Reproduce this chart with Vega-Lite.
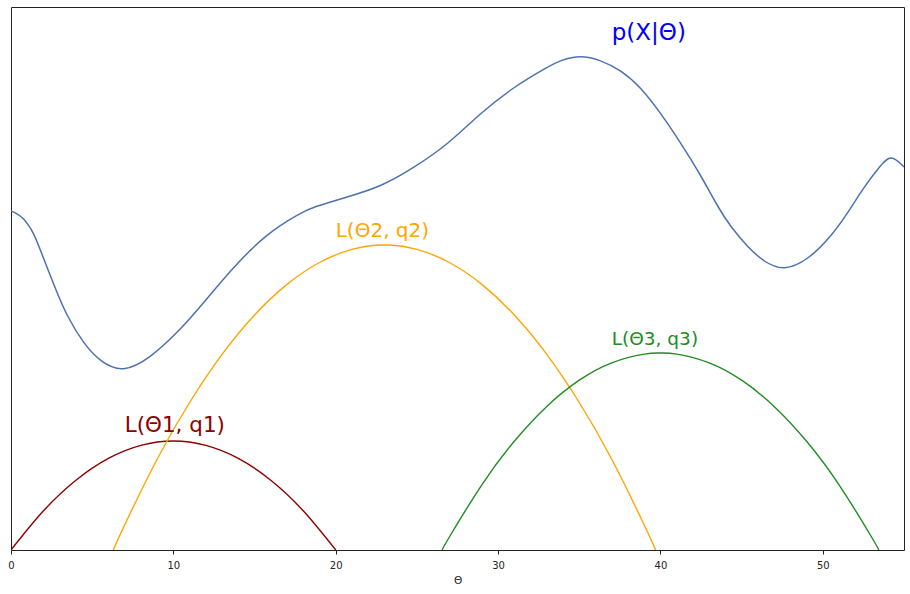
{
  "$schema": "https://vega.github.io/schema/vega-lite/v6.json",
  "width": 893,
  "height": 543,
  "autosize": {"type": "none"},
  "padding": {"left": 11, "top": 7, "right": 6, "bottom": 44},
  "background": "white",
  "config": {
    "view": {"stroke": "#222", "strokeWidth": 1},
    "font": "DejaVu Sans",
    "axis": {
      "labelFont": "DejaVu Sans",
      "labelFontSize": 10,
      "labelColor": "#222",
      "labelFlush": false,
      "tickColor": "#222",
      "tickSize": 4,
      "tickWidth": 1,
      "domain": false,
      "grid": false,
      "titleFont": "DejaVu Sans",
      "titleFontSize": 10.5,
      "titleFontWeight": "normal",
      "titleColor": "#222",
      "titlePadding": 5,
      "labelPadding": 6
    }
  },
  "datasets": {
    "curves": [
      {"series": "p", "x": 0, "y": 339},
      {"series": "p", "x": 0.37, "y": 336.5},
      {"series": "p", "x": 0.74, "y": 332},
      {"series": "p", "x": 1.05, "y": 325.5},
      {"series": "p", "x": 1.36, "y": 318},
      {"series": "p", "x": 1.79, "y": 301},
      {"series": "p", "x": 2.4, "y": 275},
      {"series": "p", "x": 2.9, "y": 255},
      {"series": "p", "x": 3.45, "y": 234},
      {"series": "p", "x": 4.44, "y": 207},
      {"series": "p", "x": 5.49, "y": 188},
      {"series": "p", "x": 6.9, "y": 177},
      {"series": "p", "x": 8.57, "y": 192},
      {"series": "p", "x": 10.23, "y": 217},
      {"series": "p", "x": 11.65, "y": 243},
      {"series": "p", "x": 13.69, "y": 283},
      {"series": "p", "x": 15.78, "y": 317},
      {"series": "p", "x": 17.82, "y": 337},
      {"series": "p", "x": 18.62, "y": 343},
      {"series": "p", "x": 20.71, "y": 353},
      {"series": "p", "x": 22.75, "y": 363},
      {"series": "p", "x": 24.78, "y": 382},
      {"series": "p", "x": 26.88, "y": 405},
      {"series": "p", "x": 28.91, "y": 437},
      {"series": "p", "x": 30.95, "y": 463},
      {"series": "p", "x": 33.05, "y": 483},
      {"series": "p", "x": 33.85, "y": 490},
      {"series": "p", "x": 35.08, "y": 495},
      {"series": "p", "x": 36.31, "y": 490},
      {"series": "p", "x": 37.55, "y": 480},
      {"series": "p", "x": 38.78, "y": 463},
      {"series": "p", "x": 40.01, "y": 437},
      {"series": "p", "x": 41.25, "y": 407},
      {"series": "p", "x": 42.48, "y": 375},
      {"series": "p", "x": 43.53, "y": 343},
      {"series": "p", "x": 44.33, "y": 323},
      {"series": "p", "x": 45.38, "y": 303},
      {"series": "p", "x": 46.36, "y": 288},
      {"series": "p", "x": 47.6, "y": 279},
      {"series": "p", "x": 49.08, "y": 290},
      {"series": "p", "x": 50.49, "y": 313},
      {"series": "p", "x": 51.54, "y": 337},
      {"series": "p", "x": 52.53, "y": 363},
      {"series": "p", "x": 53.58, "y": 385},
      {"series": "p", "x": 54.19, "y": 396},
      {"series": "p", "x": 55, "y": 383},

      {"series": "L1", "x": 0, "y": 0},
      {"series": "L1", "x": 2, "y": 39.2},
      {"series": "L1", "x": 4, "y": 69.8},
      {"series": "L1", "x": 6, "y": 91.6},
      {"series": "L1", "x": 8, "y": 104.6},
      {"series": "L1", "x": 10, "y": 109},
      {"series": "L1", "x": 12, "y": 104.6},
      {"series": "L1", "x": 14, "y": 91.6},
      {"series": "L1", "x": 16, "y": 69.8},
      {"series": "L1", "x": 18, "y": 39.2},
      {"series": "L1", "x": 20, "y": 0},

      {"series": "L2", "x": 6.3, "y": 0},
      {"series": "L2", "x": 7, "y": 25},
      {"series": "L2", "x": 9, "y": 90.7},
      {"series": "L2", "x": 11, "y": 147.5},
      {"series": "L2", "x": 13, "y": 195.6},
      {"series": "L2", "x": 15, "y": 235},
      {"series": "L2", "x": 17, "y": 265.6},
      {"series": "L2", "x": 19, "y": 287.5},
      {"series": "L2", "x": 21, "y": 300.6},
      {"series": "L2", "x": 23, "y": 305},
      {"series": "L2", "x": 25, "y": 300.6},
      {"series": "L2", "x": 27, "y": 287.5},
      {"series": "L2", "x": 29, "y": 265.6},
      {"series": "L2", "x": 31, "y": 235},
      {"series": "L2", "x": 33, "y": 195.6},
      {"series": "L2", "x": 35, "y": 147.5},
      {"series": "L2", "x": 37, "y": 90.7},
      {"series": "L2", "x": 39, "y": 25},
      {"series": "L2", "x": 39.7, "y": 0},

      {"series": "L3", "x": 26.55, "y": 0},
      {"series": "L3", "x": 27, "y": 13},
      {"series": "L3", "x": 29, "y": 65.2},
      {"series": "L3", "x": 31, "y": 108.8},
      {"series": "L3", "x": 33, "y": 143.6},
      {"series": "L3", "x": 35, "y": 169.8},
      {"series": "L3", "x": 37, "y": 187.2},
      {"series": "L3", "x": 39, "y": 195.9},
      {"series": "L3", "x": 40, "y": 197},
      {"series": "L3", "x": 41, "y": 195.9},
      {"series": "L3", "x": 43, "y": 187.2},
      {"series": "L3", "x": 45, "y": 169.8},
      {"series": "L3", "x": 47, "y": 143.6},
      {"series": "L3", "x": 49, "y": 108.8},
      {"series": "L3", "x": 51, "y": 65.2},
      {"series": "L3", "x": 53, "y": 13},
      {"series": "L3", "x": 53.45, "y": 0}
    ],
    "labels": [
      {"series": "p", "x": 37, "y": 510, "text": "p(X|Θ)"},
      {"series": "L1", "x": 7, "y": 118, "text": "L(Θ1, q1)"},
      {"series": "L2", "x": 20, "y": 313, "text": "L(Θ2, q2)"},
      {"series": "L3", "x": 37, "y": 205, "text": "L(Θ3, q3)"}
    ]
  },
  "encoding": {
    "x": {"field": "x", "type": "quantitative", "title": "Θ",
          "scale": {"domain": [0, 55], "nice": false, "zero": false},
          "axis": {"values": [0, 10, 20, 30, 40, 50]}},
    "y": {"field": "y", "type": "quantitative", "scale": {"domain": [0, 543], "nice": false}, "axis": null}
  },
  "layer": [
    {
      "data": {"name": "curves"},
      "transform": [{"filter": "datum.series === 'p'"}],
      "mark": {"type": "line", "interpolate": "basis", "strokeWidth": 1.5, "clip": true},
      "encoding": {
        "color": {"field": "series", "type": "nominal", "legend": null,
                  "scale": {"domain": ["p", "L1", "L2", "L3"], "range": ["#4C72B0", "#8B0000", "#FFA500", "#228B22"]}},
        "detail": {"field": "series"}
      }
    },
    {
      "data": {"name": "curves"},
      "transform": [{"filter": "datum.series !== 'p'"}],
      "mark": {"type": "line", "interpolate": "natural", "strokeWidth": 1.4, "clip": true},
      "encoding": {
        "color": {"field": "series", "type": "nominal", "legend": null,
                  "scale": {"domain": ["p", "L1", "L2", "L3"], "range": ["#4C72B0", "#8B0000", "#FFA500", "#228B22"]}},
        "detail": {"field": "series"}
      }
    },
    {
      "data": {"name": "labels"},
      "mark": {"type": "text", "align": "left", "baseline": "alphabetic", "font": "DejaVu Sans"},
      "encoding": {
        "text": {"field": "text"},
        "size": {"field": "series", "type": "nominal", "legend": null,
                 "scale": {"domain": ["p", "L1", "L2", "L3"], "range": [23, 18.5, 18.5, 18.5]}},
        "color": {"field": "series", "type": "nominal", "legend": null,
                  "scale": {"domain": ["p", "L1", "L2", "L3"], "range": ["#0000FF", "#8B0000", "#FFA500", "#228B22"]}}
      }
    }
  ],
  "resolve": {"scale": {"color": "independent"}}
}
